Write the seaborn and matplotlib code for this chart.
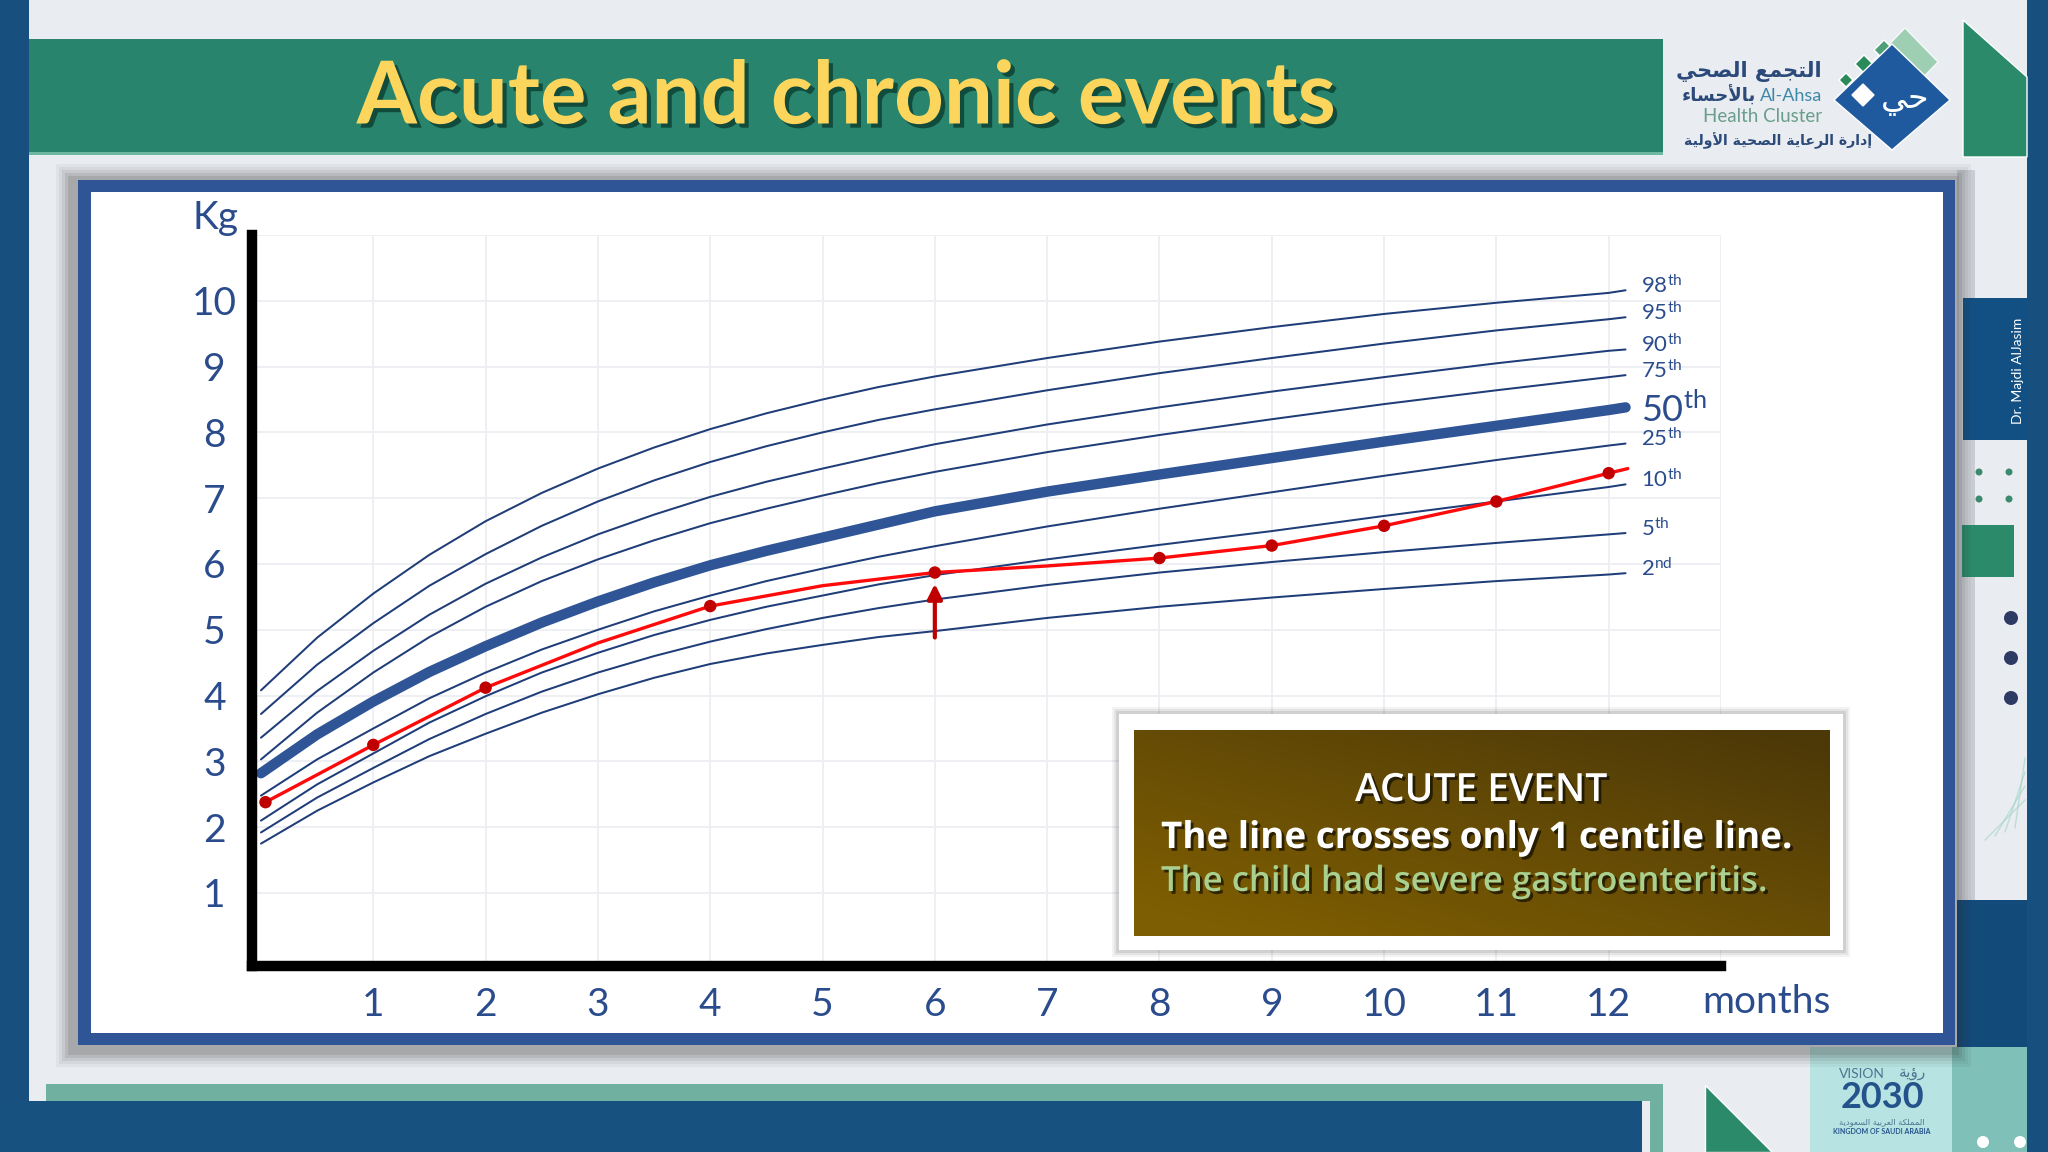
import numpy as np
import pandas as pd
import seaborn as sns
import matplotlib.pyplot as plt
import matplotlib.patheffects as pe
from matplotlib.patches import Rectangle, Polygon, Circle

# centile curves (kg by month)
months = [0, 0.5, 1, 1.5, 2, 2.5, 3, 3.5, 4, 4.5, 5, 5.5, 6, 7, 8, 9, 10, 11, 12, 12.15]
p98 = [4.08, 4.88, 5.55, 6.14, 6.65, 7.08, 7.45, 7.77, 8.05, 8.29, 8.50, 8.69, 8.85, 9.13, 9.38, 9.60, 9.80, 9.97, 10.12, 10.16]
p95 = [3.72, 4.47, 5.10, 5.67, 6.15, 6.58, 6.95, 7.27, 7.55, 7.79, 8.00, 8.19, 8.35, 8.64, 8.90, 9.13, 9.35, 9.55, 9.72, 9.75]
p90 = [3.36, 4.07, 4.68, 5.23, 5.70, 6.10, 6.45, 6.75, 7.02, 7.25, 7.45, 7.64, 7.82, 8.12, 8.38, 8.62, 8.84, 9.05, 9.24, 9.26]
p75 = [3.03, 3.74, 4.35, 4.89, 5.35, 5.74, 6.07, 6.36, 6.62, 6.84, 7.04, 7.23, 7.40, 7.70, 7.96, 8.20, 8.43, 8.64, 8.84, 8.87]
p50 = [2.82, 3.41, 3.91, 4.36, 4.75, 5.11, 5.43, 5.72, 5.98, 6.20, 6.40, 6.60, 6.80, 7.10, 7.36, 7.61, 7.86, 8.10, 8.34, 8.38]
p25 = [2.48, 3.03, 3.50, 3.96, 4.35, 4.70, 5.00, 5.28, 5.52, 5.74, 5.93, 6.11, 6.27, 6.57, 6.84, 7.09, 7.34, 7.58, 7.80, 7.83]
p10 = [2.10, 2.65, 3.12, 3.59, 3.99, 4.35, 4.65, 4.92, 5.15, 5.35, 5.52, 5.69, 5.83, 6.07, 6.29, 6.50, 6.73, 6.95, 7.17, 7.21]
p5 = [1.92, 2.45, 2.90, 3.34, 3.72, 4.06, 4.35, 4.60, 4.82, 5.01, 5.18, 5.33, 5.46, 5.68, 5.87, 6.03, 6.18, 6.32, 6.45, 6.47]
p2 = [1.75, 2.25, 2.68, 3.08, 3.42, 3.74, 4.02, 4.27, 4.48, 4.64, 4.77, 4.89, 4.98, 5.18, 5.35, 5.49, 5.62, 5.74, 5.84, 5.86]
centile_labels = ['98$^{th}$', '95$^{th}$', '90$^{th}$', '75$^{th}$', '50$^{th}$',
                  '25$^{th}$', '10$^{th}$', '5$^{th}$', '2$^{nd}$']

# the child's weight
child_months = [0.04, 1, 2, 3, 4, 5, 6, 7, 8, 9, 10, 11, 12, 12.17]
child_kg = [2.38, 3.25, 4.12, 4.80, 5.36, 5.67, 5.87, 5.97, 6.09, 6.28, 6.58, 6.95, 7.38, 7.45]
visit_months = [0.04, 1, 2, 4, 6, 8, 9, 10, 11, 12]
visit_kg = [2.38, 3.25, 4.12, 5.36, 5.87, 6.09, 6.28, 6.58, 6.95, 7.38]
arrow_month = 6
arrow_kg = [4.84, 5.74]

x_ticks = [1, 2, 3, 4, 5, 6, 7, 8, 9, 10, 11, 12]
y_ticks = [1, 2, 3, 4, 5, 6, 7, 8, 9, 10]

NAVY = '#2b4c8c'
LINE = '#1f3d78'


def shape_ar(text):
    # minimal arabic joining, enough for the logo texts
    f = {
        'ء': ('\ufe80',), 'أ': ('\ufe83', '\ufe84'), 'ؤ': ('\ufe85', '\ufe86'),
        'إ': ('\ufe87', '\ufe88'), 'ا': ('\ufe8d', '\ufe8e'),
        'ب': ('\ufe8f', '\ufe90', '\ufe91', '\ufe92'), 'ة': ('\ufe93', '\ufe94'),
        'ت': ('\ufe95', '\ufe96', '\ufe97', '\ufe98'), 'ج': ('\ufe9d', '\ufe9e', '\ufe9f', '\ufea0'),
        'ح': ('\ufea1', '\ufea2', '\ufea3', '\ufea4'), 'د': ('\ufea9', '\ufeaa'),
        'ر': ('\ufead', '\ufeae'), 'س': ('\ufeb1', '\ufeb2', '\ufeb3', '\ufeb4'),
        'ص': ('\ufeb9', '\ufeba', '\ufebb', '\ufebc'), 'ع': ('\ufec9', '\ufeca', '\ufecb', '\ufecc'),
        'ك': ('\ufed9', '\ufeda', '\ufedb', '\ufedc'), 'ل': ('\ufedd', '\ufede', '\ufedf', '\ufee0'),
        'م': ('\ufee1', '\ufee2', '\ufee3', '\ufee4'), 'ه': ('\ufee9', '\ufeea', '\ufeeb', '\ufeec'),
        'و': ('\ufeed', '\ufeee'), 'ي': ('\ufef1', '\ufef2', '\ufef3', '\ufef4'),
    }
    lig = {'ا': ('\ufefb', '\ufefc'), 'أ': ('\ufef7', '\ufef8'), 'إ': ('\ufef9', '\ufefa')}
    items = []
    i = 0
    while i < len(text):
        c = text[i]
        if c == 'ل' and i + 1 < len(text) and text[i + 1] in lig:
            items.append((c, lig[text[i + 1]]))
            i += 2
        else:
            items.append((c, f.get(c)))
            i += 1
    out = []
    for k, (c, forms) in enumerate(items):
        if forms is None or len(forms) == 1:
            out.append(forms[0] if forms else c)
            continue
        prev = items[k - 1][1] if k > 0 else None
        nxt = items[k + 1][1] if k + 1 < len(items) else None
        jp = prev is not None and len(prev) == 4
        jn = len(forms) == 4 and nxt is not None and len(nxt) >= 2
        if jp and jn:
            out.append(forms[3])
        elif jp:
            out.append(forms[1])
        elif jn:
            out.append(forms[2])
        else:
            out.append(forms[0])
    return ''.join(reversed(out))


sns.set_theme(style='white')
plt.rcParams['font.family'] = ['Lato', 'DejaVu Sans']
plt.rcParams['mathtext.default'] = 'regular'

fig = plt.figure(figsize=(20.48, 11.52), dpi=100)
fig.patch.set_facecolor('#e9ecf0')

# background layer in pixel coords
bg = fig.add_axes([0, 0, 1, 1], zorder=0)
bg.set_xlim(0, 2048)
bg.set_ylim(1152, 0)
bg.axis('off')

def rect(x0, y0, x1, y1, c, **kw):
    bg.add_patch(Rectangle((x0, y0), x1 - x0, y1 - y0, facecolor=c, edgecolor='none', **kw))

rect(0, 0, 29, 1152, '#17507f')
rect(2027, 0, 2048, 1152, '#17507f')
# title band
rect(29, 39, 1663, 154, '#28846c')
rect(29, 152, 1663, 155, '#6db8a0')
bg.text(846, 99, 'Acute and chronic events', ha='center', va='center', fontsize=62.5,
        fontweight='bold', color='#fcd65c',
        path_effects=[pe.withSimplePatchShadow(offset=(3, -3), shadow_rgbFace='#0a3d30', alpha=0.8)])

# logo
bg.add_patch(Polygon([(1872, 62), (1905, 28), (1938, 62), (1905, 96)], facecolor='#8cc8a4', alpha=0.8))
for cx, cy, h, c in [(1846, 80, 7, '#2a8a5a'), (1864, 64, 9, '#2a8a5a'), (1884, 50, 10, '#4e9e78')]:
    bg.add_patch(Polygon([(cx - h, cy), (cx, cy - h), (cx + h, cy), (cx, cy + h)], facecolor=c))
bg.add_patch(Polygon([(1834, 100), (1892, 44), (1950, 100), (1892, 150)], facecolor='#1f5a9e'))
bg.add_patch(Polygon([(1852, 95), (1863, 84), (1874, 95), (1863, 106)], facecolor='white'))
bg.text(1905, 100, shape_ar('حي'), ha='center', va='center', fontsize=24, color='white',
        family=['DejaVu Sans'])
bg.text(1822, 72, shape_ar('التجمع الصحي'), ha='right', va='center', fontsize=15,
        color='#2b4a7a', family=['DejaVu Sans'], fontweight='bold')
bg.text(1822, 96, 'Al-Ahsa', ha='right', va='center', fontsize=13, color='#3d88a8')
bg.text(1756, 96, shape_ar('بالأحساء'), ha='right', va='center', fontsize=13,
        color='#2b4a7a', family=['DejaVu Sans'], fontweight='bold')
bg.text(1822, 117, 'Health Cluster', ha='right', va='center', fontsize=13.5, color='#6a9e8a')
bg.text(1872, 141, shape_ar('إدارة الرعاية الصحية الأولية'), ha='right', va='center',
        fontsize=10.2, color='#2b4a7a', family=['DejaVu Sans'], fontweight='bold')
bg.add_patch(Polygon([(1963, 20), (2027, 77), (2027, 157), (1963, 157)], facecolor='#2a8a6a'))

# right column decorations
rect(1957, 170, 1975, 900, '#c9ccd2')
rect(1957, 900, 2027, 1047, '#124a7a')
rect(1963, 298, 2027, 440, '#124f82')
bg.text(2018, 371, 'Dr. Majdi AlJasim', rotation=90, ha='center', va='center',
        fontsize=10, color='white')
for cx, cy in [(1979, 472), (2009, 472), (1979, 499), (2009, 499)]:
    bg.add_patch(Circle((cx, cy), 3.5, facecolor='#3b8a6e', edgecolor='none'))
rect(1962, 525, 2014, 577, '#2a8a6a')
for cy in [618, 658, 698]:
    bg.add_patch(Circle((2011, cy), 7, facecolor='#2d3a63', edgecolor='none'))
for k in range(4):
    bg.plot([1985 + 10 * k, 2025], [840 - 4 * k, 800 - 4 * k - 10 * k], color='#9fd4c4', lw=1, alpha=0.6)

# bottom decorations
rect(46, 1084, 1663, 1101, '#6fb0a0')
rect(1650, 1084, 1663, 1152, '#6fb0a0')
rect(0, 1101, 1642, 1152, '#16517f')
bg.add_patch(Polygon([(1705, 1085), (1705, 1152), (1772, 1152)], facecolor='#2a8a6a'))
rect(1810, 1047, 1952, 1152, '#b7e4e2')
rect(1952, 1047, 2027, 1152, '#7fc0b8')
for cx in [1983, 2020]:
    bg.add_patch(Circle((cx, 1142), 6, facecolor='white', edgecolor='none'))
bg.text(1862, 1074, 'VISION', ha='center', va='center', fontsize=10, color='#4f7590')
bg.text(1912, 1073, shape_ar('رؤية'), ha='center', va='center', fontsize=11,
        color='#4f7590', family=['DejaVu Sans'])
bg.text(1882, 1098, '2030', ha='center', va='center', fontsize=26, fontweight='bold', color='#24528a')
bg.text(1882, 1122, shape_ar('المملكة العربية السعودية'), ha='center', va='center',
        fontsize=6, color='#4f7590', family=['DejaVu Sans'])
bg.text(1882, 1132, 'KINGDOM OF SAUDI ARABIA', ha='center', va='center', fontsize=5,
        color='#24528a', fontweight='bold')

# chart panel with shadow
for k, a in enumerate([0.05, 0.06, 0.08, 0.10, 0.12]):
    d = 16 - 3 * k
    rect(78 - d - 6, 180 - d, 1955 + d, 1045 + d + 6, '#303030', alpha=a)
rect(78, 180, 1955, 1045, '#2f5597')
rect(91, 192, 1943, 1033, 'white')
bg.text(215, 218, 'Kg', ha='center', va='center', fontsize=28, color=NAVY)
bg.text(1766, 1002, 'months', ha='center', va='center', fontsize=28, color=NAVY)

# growth chart
ax = fig.add_axes([252 / 2048, 1 - 966 / 1152, (1721 - 252) / 2048, (966 - 235) / 1152], zorder=2)
ax.patch.set_visible(False)
ax.set_xlim(-0.08, 13)
ax.set_ylim(-0.11, 11)
ax.set_xticks(x_ticks + [13])
ax.set_xticklabels([str(v) for v in x_ticks] + [''])
ax.set_yticks(y_ticks + [11])
ax.set_yticklabels([str(v) for v in y_ticks] + [''])
ax.grid(True, color='#eeeff3', linewidth=1.4)
ax.tick_params(axis='x', length=0, pad=15, labelsize=28, labelcolor=NAVY)
ax.tick_params(axis='y', length=0, pad=27, labelsize=28, labelcolor=NAVY)
for lab in ax.get_yticklabels():
    lab.set_ha('center')
for side in ['top', 'right']:
    ax.spines[side].set_visible(False)
for side in ['left', 'bottom']:
    ax.spines[side].set_color('black')
    ax.spines[side].set_linewidth(7.5)

series = [p98, p95, p90, p75, p50, p25, p10, p5, p2]
for vals, lab in zip(series, centile_labels):
    big = lab.startswith('50')
    sns.lineplot(x=months, y=vals, ax=ax, sort=False, errorbar=None,
                 color='#2f5597' if big else LINE, linewidth=7.5 if big else 1.45)
    ax.text(12.29, vals[-1] + (-0.04 if big else 0.07), lab, ha='left', va='center', color=NAVY,
            fontsize=26 if big else 16)

sns.lineplot(x=child_months, y=child_kg, ax=ax, sort=False, errorbar=None,
             color='#ff0a0a', linewidth=2.4, zorder=4)
sns.scatterplot(x=visit_months, y=visit_kg, ax=ax, color='#c00000', s=80,
                edgecolor='none', zorder=5)
ax.annotate('', xy=(arrow_month, arrow_kg[1]), xytext=(arrow_month, arrow_kg[0]),
            arrowprops=dict(arrowstyle='-|>', color='#c00000', lw=3, mutation_scale=22))
ax.set_xlabel('')
ax.set_ylabel('')

# message box
sh = fig.add_axes([1119 / 2048, 1 - 950 / 1152, (1843 - 1119) / 2048, (950 - 714) / 1152], zorder=3)
sh.set_xlim(1119, 1843)
sh.set_ylim(950, 714)
sh.axis('off')
box = fig.add_axes([1134 / 2048, 1 - 936 / 1152, (1830 - 1134) / 2048, (936 - 730) / 1152], zorder=4)
for k, a in enumerate([0.06, 0.08, 0.12]):
    d = 7 - 2 * k
    sh.add_patch(Rectangle((1119 - d, 714 - d), 724 + 2 * d, 236 + 2 * d, transform=sh.transData,
                           facecolor='#404040', edgecolor='none', alpha=a, clip_on=False))
sh.add_patch(Rectangle((1119, 714), 724, 236, facecolor='white', edgecolor='none'))
u = np.linspace(0, 1, 300)
v = np.linspace(1, 0, 90)
t = np.clip(0.55 * u[None, :] + 0.6 * v[:, None] - 0.1, 0, 1)
c0 = np.array([0x7e, 0x5e, 0x02]) / 255
c1 = np.array([0x4d, 0x39, 0x08]) / 255
grad = c0[None, None, :] * (1 - t[..., None]) + c1[None, None, :] * t[..., None]
box.imshow(grad, aspect='auto', extent=(0, 1, 0, 1))
box.set_xlim(0, 1)
box.set_ylim(0, 1)
box.axis('off')
shadow = [pe.withSimplePatchShadow(offset=(2, -2), shadow_rgbFace='black', alpha=0.6)]
bg2 = fig.add_axes([0, 0, 1, 1], zorder=5)
bg2.set_xlim(0, 2048)
bg2.set_ylim(1152, 0)
bg2.axis('off')
box_font = ['Open Sans', 'DejaVu Sans']
bg2.text(1481, 791, 'ACUTE EVENT', ha='center', va='center', fontsize=28, fontweight='semibold',
         color='white', family=box_font, path_effects=shadow)
bg2.text(1161, 838, 'The line crosses only 1 centile line.', ha='left', va='center', fontsize=26.5,
         fontweight='bold', color='white', family=box_font, path_effects=shadow)
bg2.text(1161, 882, 'The child had severe gastroenteritis.', ha='left', va='center', fontsize=25,
         fontweight='semibold', color='#a9d08e', family=box_font, path_effects=shadow)

plt.savefig('out.png', dpi=100)
